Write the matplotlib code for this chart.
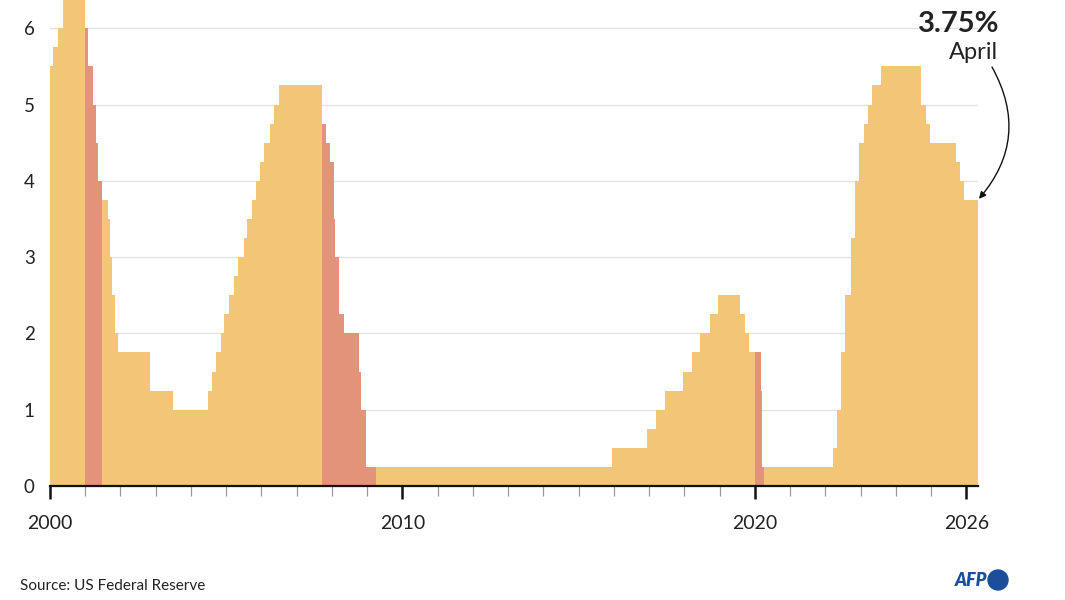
import numpy as np
import pandas as pd
import matplotlib.pyplot as plt
from matplotlib.patches import Ellipse

#--- fed funds target (upper bound), date of each change
change_dates = ['2000-01-01', '2000-02-02', '2000-03-21', '2000-05-16',
                '2001-01-03', '2001-01-31', '2001-03-20', '2001-04-18', '2001-05-15',
                '2001-06-27', '2001-08-21', '2001-09-17', '2001-10-02', '2001-11-06',
                '2001-12-11', '2002-11-06', '2003-06-25',
                '2004-06-30', '2004-08-10', '2004-09-21', '2004-11-10', '2004-12-14',
                '2005-02-02', '2005-03-22', '2005-05-03', '2005-06-30', '2005-08-09',
                '2005-09-20', '2005-11-01', '2005-12-13', '2006-01-31', '2006-03-28',
                '2006-05-10', '2006-06-29',
                '2007-09-18', '2007-10-31', '2007-12-11', '2008-01-22', '2008-01-30',
                '2008-03-18', '2008-04-30', '2008-10-08', '2008-10-29', '2008-12-16',
                '2015-12-16', '2016-12-14', '2017-03-15', '2017-06-14', '2017-12-13',
                '2018-03-21', '2018-06-13', '2018-09-26', '2018-12-19',
                '2019-07-31', '2019-09-18', '2019-10-30', '2020-03-03', '2020-03-15',
                '2022-03-16', '2022-05-04', '2022-06-15', '2022-07-27', '2022-09-21',
                '2022-11-02', '2022-12-14', '2023-02-01', '2023-03-22', '2023-05-03',
                '2023-07-26', '2024-09-18', '2024-11-07', '2024-12-18',
                '2025-09-17', '2025-10-29', '2025-12-10']
rates = [5.50, 5.75, 6.00, 6.50,
         6.00, 5.50, 5.00, 4.50, 4.00,
         3.75, 3.50, 3.00, 2.50, 2.00,
         1.75, 1.25, 1.00,
         1.25, 1.50, 1.75, 2.00, 2.25,
         2.50, 2.75, 3.00, 3.25, 3.50,
         3.75, 4.00, 4.25, 4.50, 4.75,
         5.00, 5.25,
         4.75, 4.50, 4.25, 3.50, 3.00,
         2.25, 2.00, 1.50, 1.00, 0.25,
         0.50, 0.75, 1.00, 1.25, 1.50,
         1.75, 2.00, 2.25, 2.50,
         2.25, 2.00, 1.75, 1.25, 0.25,
         0.50, 1.00, 1.75, 2.50, 3.25,
         4.00, 4.50, 4.75, 5.00, 5.25,
         5.50, 5.00, 4.75, 4.50,
         4.25, 4.00, 3.75]
end_date = '2026-05-01'

# highlighted (red) periods
red_starts = ['2001-01-01', '2007-09-18', '2020-01-01']
red_ends = ['2001-06-27', '2009-04-05', '2020-04-01']

year_ticks = [2000, 2010, 2020, 2026]

YELLOW = '#F3C576'
RED = '#E2937A'


def to_year(d):
    d = pd.Timestamp(d)
    days = 366 if d.is_leap_year else 365
    return d.year + (d.dayofyear - 1) / days


chg_x = np.array([to_year(d) for d in change_dates])
red_x = [(to_year(a), to_year(b)) for a, b in zip(red_starts, red_ends)]
x_end = to_year(end_date)

#--- split steps at the red boundaries
breaks = sorted(set(list(chg_x) + [v for span in red_x for v in span] + [x_end]))
lefts, widths, heights, colors = [], [], [], []
for a, b in zip(breaks[:-1], breaks[1:]):
    idx = np.searchsorted(chg_x, a, side='right') - 1
    mid = (a + b) / 2
    in_red = any(s <= mid < e for s, e in red_x)
    lefts.append(a)
    widths.append(b - a)
    heights.append(rates[idx])
    colors.append(RED if in_red else YELLOW)

plt.rcParams['font.family'] = ['Lato', 'DejaVu Sans']

fig = plt.figure(figsize=(10.65, 6), dpi=100)
ax = fig.add_axes([50 / 1065, 1 - 486 / 600, 928 / 1065, 486 / 600])

ax.bar(lefts, heights, width=widths, align='edge', color=colors, linewidth=0, zorder=2)

ax.set_xlim(2000, x_end)
ax.set_ylim(0, 6.37)

for s in ['left', 'right', 'top']:
    ax.spines[s].set_visible(False)
ax.spines['bottom'].set_linewidth(1.6)
ax.spines['bottom'].set_color('#111111')
ax.spines['bottom'].set_zorder(3)

ax.set_yticks(range(0, 7))
ax.yaxis.grid(True, color='#e3e3e3', linewidth=1)
ax.set_axisbelow(True)
ax.tick_params(axis='y', length=0, pad=11, labelsize=13.5, labelcolor='#222222')

ax.set_xticks(year_ticks)
ax.set_xticks(range(2000, 2027), minor=True)
ax.tick_params(axis='x', which='major', length=9, width=1.8, color='#111111',
               pad=12, labelsize=14, labelcolor='#222222')
ax.tick_params(axis='x', which='minor', length=7, width=0.9, color='#999999')

#--- annotation of the latest value
fig.text(999 / 1065, 1 - 32 / 600, f'{rates[-1]:.2f}%', ha='right', va='baseline',
         fontsize=21, fontweight='bold', color='#222222')
fig.text(998 / 1065, 1 - 59 / 600, 'April', ha='right', va='baseline',
         fontsize=17, color='#222222')
ax.annotate('', xy=(x_end, rates[-1]), xycoords='data',
            xytext=(992, 600 - 67), textcoords='figure pixels',
            arrowprops=dict(arrowstyle='-|>', connectionstyle='arc3,rad=-0.35',
                            color='#111111', lw=1, shrinkA=0, shrinkB=1,
                            mutation_scale=10),
            annotation_clip=False)

fig.text(20 / 1065, 1 - 590 / 600, 'Source: US Federal Reserve', ha='left',
         va='baseline', fontsize=11, color='#222222')

# AFP mark
fig.text(987 / 1065, 1 - 586 / 600, 'AFP', ha='right', va='baseline', fontsize=13,
         fontweight='heavy', style='italic', color='#1B4F9C')
fig.add_artist(Ellipse((998 / 1065, 1 - 580 / 600), 20 / 1065, 20 / 600,
                       transform=fig.transFigure, color='#1B4F9C'))

fig.savefig('out.png', dpi=100)
